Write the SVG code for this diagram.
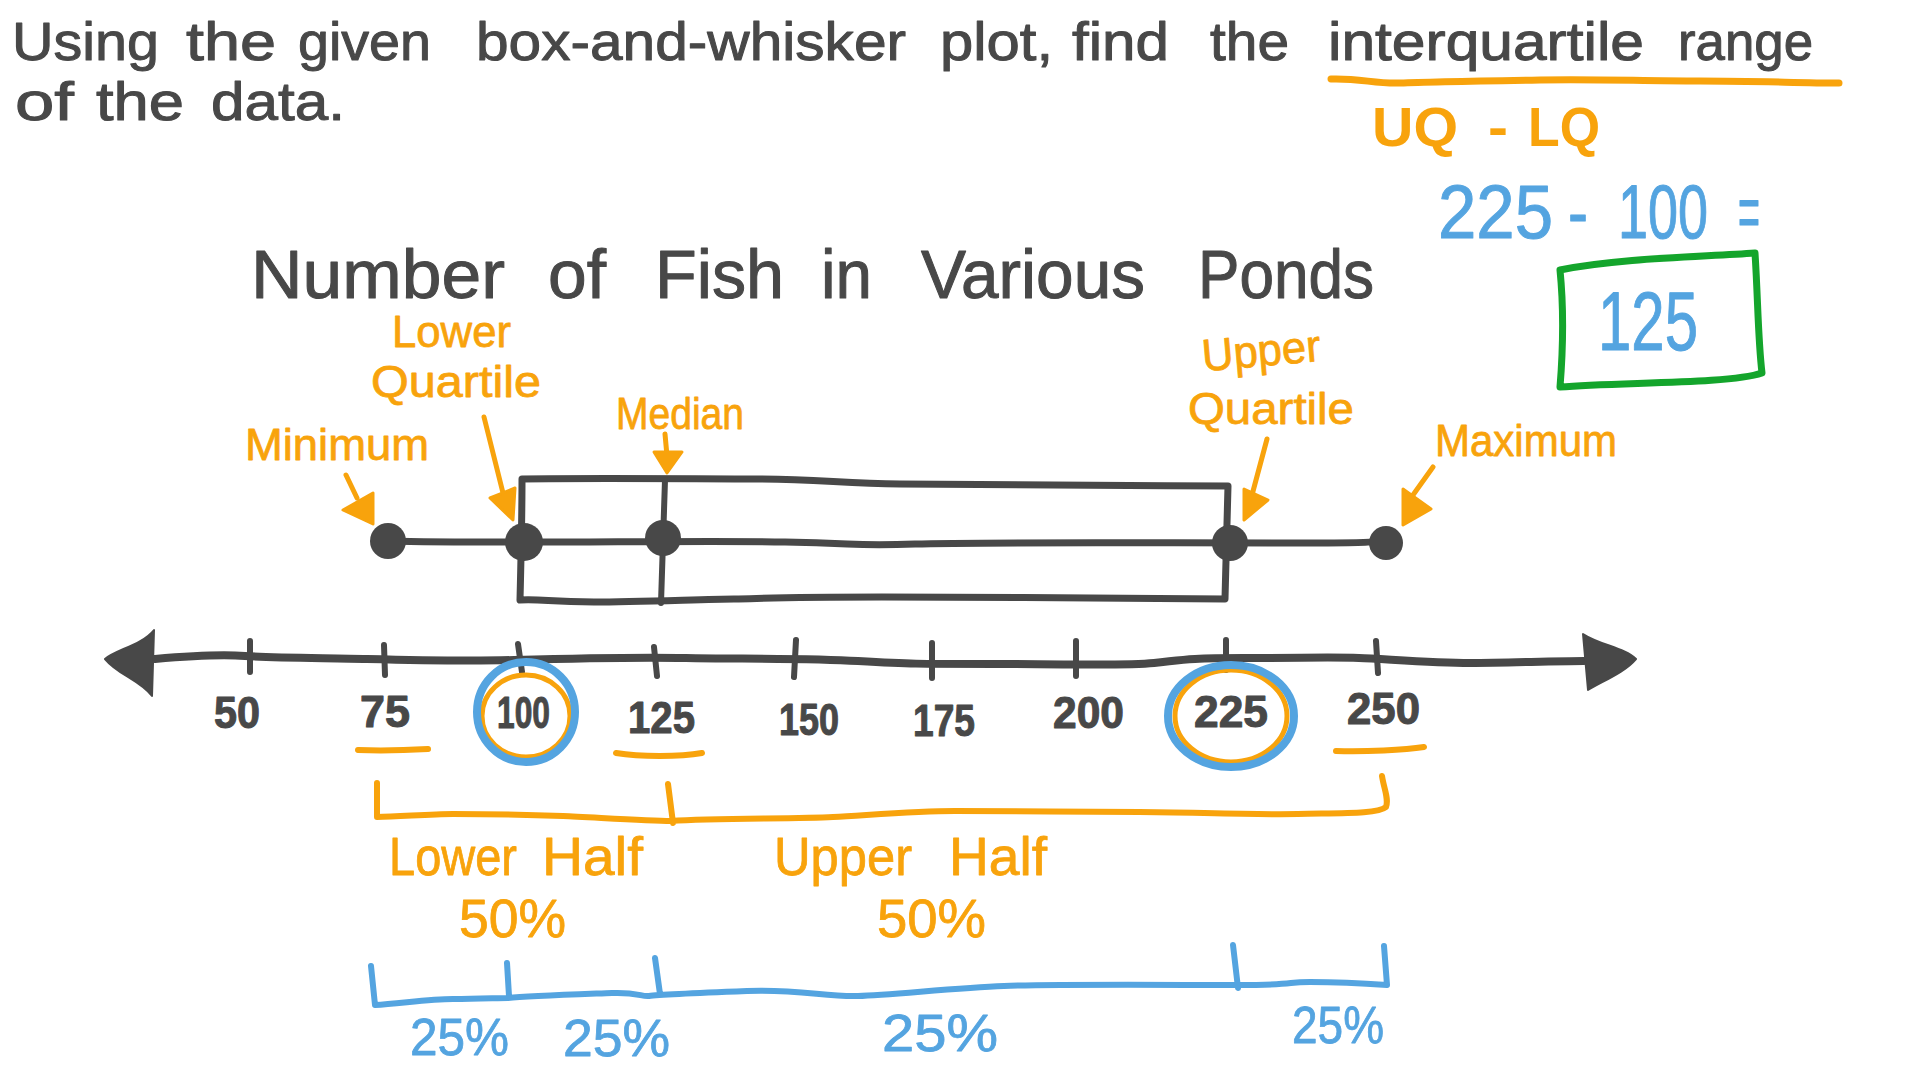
<svg xmlns="http://www.w3.org/2000/svg" width="1920" height="1080" viewBox="0 0 1920 1080">
<style>
text{font-family:"Liberation Sans",Arial,sans-serif;stroke-linejoin:round}
.d{fill:#484848}.o{fill:#f8a30c}.b{fill:#54a4e0}
.dt{stroke:#484848}.ot{stroke:#f8a30c}.bt{stroke:#54a4e0}
.w{fill:none;stroke-linecap:round;stroke-linejoin:round}
.ds{stroke:#484848}.os{stroke:#f8a30c}.bs{stroke:#54a4e0}
.h{font-size:54px;stroke-width:1px}.t{font-size:68px;stroke-width:1px}.l{font-size:45px;stroke-width:.8px}.n{font-size:44px;font-weight:700;stroke-width:1px}
.m{font-size:54px;stroke-width:.8px}.p{font-size:52px;stroke-width:.8px}
</style>
<rect width="1920" height="1080" fill="#fff"/>
<g id="question">
<text class="h d dt" y="60"><tspan x="12" textLength="147" lengthAdjust="spacingAndGlyphs">Using</tspan> <tspan x="186" textLength="90" lengthAdjust="spacingAndGlyphs">the</tspan> <tspan x="298" textLength="133" lengthAdjust="spacingAndGlyphs">given</tspan> <tspan x="476" textLength="430" lengthAdjust="spacingAndGlyphs">box-and-whisker</tspan> <tspan x="940" textLength="113" lengthAdjust="spacingAndGlyphs">plot,</tspan> <tspan x="1072" textLength="97" lengthAdjust="spacingAndGlyphs">find</tspan> <tspan x="1210" textLength="79" lengthAdjust="spacingAndGlyphs">the</tspan> <tspan x="1328" textLength="316" lengthAdjust="spacingAndGlyphs">interquartile</tspan> <tspan x="1678" textLength="135" lengthAdjust="spacingAndGlyphs">range</tspan></text>
<text class="h d dt" y="120"><tspan x="15" textLength="59" lengthAdjust="spacingAndGlyphs">of</tspan> <tspan x="96" textLength="88" lengthAdjust="spacingAndGlyphs">the</tspan> <tspan x="211" textLength="134" lengthAdjust="spacingAndGlyphs">data.</tspan></text>
</g>
<g id="formula">
<path class="w os" stroke-width="7" d="M1331 79C1360 78 1375 84 1400 83S1480 81 1540 80S1640 81 1700 81S1800 83 1839 83"/>
<text class="o" font-size="56" font-weight="700" y="146"><tspan x="1372" textLength="86" lengthAdjust="spacingAndGlyphs">UQ</tspan> <tspan x="1488" textLength="20" lengthAdjust="spacingAndGlyphs">-</tspan> <tspan x="1528" textLength="72" lengthAdjust="spacingAndGlyphs">LQ</tspan></text>
<text class="b bt" font-size="76" stroke-width="1" y="238"><tspan x="1438" textLength="115" lengthAdjust="spacingAndGlyphs">225</tspan><tspan x="1568" textLength="20" lengthAdjust="spacingAndGlyphs">-</tspan><tspan x="1618" textLength="90" lengthAdjust="spacingAndGlyphs">100</tspan> <tspan x="1738" textLength="22" lengthAdjust="spacingAndGlyphs">=</tspan></text>
</g>
<g id="answer">
<path class="w" stroke="#14a52c" stroke-width="7" d="M1560 270C1620 258 1700 257 1755 253C1758 300 1758 340 1762 373C1730 384 1620 382 1560 387C1563 350 1564 310 1560 270Z"/>
<text class="b bt" font-size="84" stroke-width="1" y="350" x="1598" textLength="100" lengthAdjust="spacingAndGlyphs">125</text>
</g>
<g id="chart-title"><text class="d dt t" y="298"><tspan x="251" textLength="254" lengthAdjust="spacingAndGlyphs">Number</tspan> <tspan x="548" textLength="58" lengthAdjust="spacingAndGlyphs">of</tspan> <tspan x="655" textLength="129" lengthAdjust="spacingAndGlyphs">Fish</tspan> <tspan x="821" textLength="51" lengthAdjust="spacingAndGlyphs">in</tspan> <tspan x="921" textLength="224" lengthAdjust="spacingAndGlyphs">Various</tspan> <tspan x="1198" textLength="176" lengthAdjust="spacingAndGlyphs">Ponds</tspan></text></g>
<g id="box-plot">
<path class="w ds" stroke-width="7" d="M522 479C600 478 700 479 760 479S845 484 900 484S1100 486 1228 486C1227 520 1226 560 1225 599C1100 598 1000 597 882 597S760 599 734 599S640 602 594 602S545 599 520 600C521 560 522 520 522 479Z"/>
<path class="w ds" stroke-width="6" d="M665 480L661 603"/>
<path class="w ds" stroke-width="7" d="M388 541C500 544 700 540 785 542S856 546 915 544S1145 543 1282 543S1345 540 1386 543"/>
<g class="d"><circle cx="388" cy="541" r="18"/><circle cx="524" cy="542" r="19"/><circle cx="663" cy="538" r="18"/><circle cx="1230" cy="543" r="18"/><circle cx="1386" cy="543" r="17"/></g>
</g>
<g id="number-line">
<path class="w ds" stroke-width="8" d="M155 659C189 656 219 654 245 656S328 658 367 659S478 661 514 660S637 657 686 658S806 658 858 661S915 664 995 664S1125 666 1154 663S1184 658 1244 658S1333 657 1359 658S1433 663 1470 663S1552 661 1584 661"/>
<path class="d ds" stroke-width="2" stroke-linejoin="round" d="M154 630L152 696C140 680 118 675 105 659C115 650 142 645 154 630ZM1583 634L1588 690C1605 680 1625 672 1636 659C1625 648 1600 645 1583 634Z"/>
<path class="w ds" stroke-width="6" d="M250 641V672M384 645L385 675M518 644L522 672M654 647L657 676M796 640L794 677M932 643V678M1076 641V676M1226 640V670M1376 641L1378 673"/>
</g>
<g id="tick-labels" class="d dt n">
<text x="214" y="728" textLength="46" lengthAdjust="spacingAndGlyphs">50</text>
<text x="360" y="727" textLength="50" lengthAdjust="spacingAndGlyphs">75</text>
<text x="497" y="728" textLength="53" lengthAdjust="spacingAndGlyphs">100</text>
<text x="628" y="733" textLength="67" lengthAdjust="spacingAndGlyphs">125</text>
<text x="779" y="735" textLength="60" lengthAdjust="spacingAndGlyphs">150</text>
<text x="913" y="736" textLength="62" lengthAdjust="spacingAndGlyphs">175</text>
<text x="1053" y="728" textLength="71" lengthAdjust="spacingAndGlyphs">200</text>
<text x="1194" y="727" textLength="74" lengthAdjust="spacingAndGlyphs">225</text>
<text x="1347" y="724" textLength="73" lengthAdjust="spacingAndGlyphs">250</text>
</g>
<g id="marks">
<path class="w os" stroke-width="6" d="M358 750C385 751 410 750 428 749M616 753C640 757 680 757 702 753M1336 751C1365 752 1405 750 1424 747"/>
<ellipse class="w os" stroke-width="5" cx="526" cy="716" rx="44" ry="41"/>
<ellipse class="w bs" stroke-width="8" cx="526" cy="712" rx="49" ry="50"/>
<ellipse class="w os" stroke-width="5" cx="1231" cy="716" rx="56" ry="46"/>
<ellipse class="w bs" stroke-width="8" cx="1231" cy="716" rx="63" ry="51"/>
</g>
<g id="annotations" class="o ot l">
<text x="392" y="347" textLength="119" lengthAdjust="spacingAndGlyphs">Lower</text>
<text x="371" y="397" textLength="170" lengthAdjust="spacingAndGlyphs">Quartile</text>
<text x="616" y="429" textLength="128" lengthAdjust="spacingAndGlyphs">Median</text>
<text x="245" y="460" textLength="184" lengthAdjust="spacingAndGlyphs">Minimum</text>
<text x="1203" y="366" textLength="119" lengthAdjust="spacingAndGlyphs" transform="rotate(-5 1262 366)">Upper</text>
<text x="1188" y="424" textLength="166" lengthAdjust="spacingAndGlyphs">Quartile</text>
<text x="1435" y="456" textLength="182" lengthAdjust="spacingAndGlyphs">Maximum</text>
</g>
<g id="arrows">
<path class="w os" stroke-width="5" d="M484 417L503 493M665 434L667 456M346 475L357 498M1267 439L1252 495M1433 467L1413 495"/>
<g class="o os" stroke-width="3" stroke-linejoin="round"><polygon points="490,498 515,488 513,520"/><polygon points="654,452 682,452 667,473"/><polygon points="343,510 373,493 373,524"/><polygon points="1244,489 1268,500 1244,520"/><polygon points="1403,489 1431,509 1403,525"/></g>
</g>
<g id="half-brackets">
<path class="w os" stroke-width="6" d="M377 783L377 817C398 817 428 814 453 814S537 815 563 816S647 821 671 821C716 818 796 819 833 817S915 811 955 811S1094 812 1139 812S1253 815 1298 814S1378 814 1386 807C1389 799 1384 789 1382 776M668 784L673 823"/>
<text class="o ot m" y="875"><tspan x="389" textLength="128" lengthAdjust="spacingAndGlyphs">Lower</tspan> <tspan x="542" textLength="101" lengthAdjust="spacingAndGlyphs">Half</tspan></text>
<text class="o ot m" y="875"><tspan x="774" textLength="138" lengthAdjust="spacingAndGlyphs">Upper</tspan> <tspan x="949" textLength="98" lengthAdjust="spacingAndGlyphs">Half</tspan></text>
<text class="o ot m" x="459" y="937" textLength="107" lengthAdjust="spacingAndGlyphs">50%</text>
<text class="o ot m" x="877" y="937" textLength="109" lengthAdjust="spacingAndGlyphs">50%</text>
</g>
<g id="quarter-brackets">
<path class="w bs" stroke-width="6" d="M371 966L375 1005C398 1004 428 999 453 999S498 998 508 998C527 996 587 994 612 993S642 997 649 996S696 993 747 991S826 997 858 996S955 988 1004 986S1174 985 1237 985S1283 982 1310 982S1373 984 1387 985L1384 946M507 963L509 996M655 958L660 994M1233 945L1238 988"/>
<text class="b bt p" x="410" y="1055" textLength="99" lengthAdjust="spacingAndGlyphs">25%</text>
<text class="b bt p" x="563" y="1056" textLength="107" lengthAdjust="spacingAndGlyphs">25%</text>
<text class="b bt p" x="882" y="1051" textLength="116" lengthAdjust="spacingAndGlyphs">25%</text>
<text class="b bt p" x="1292" y="1043" textLength="92" lengthAdjust="spacingAndGlyphs">25%</text>
</g>
</svg>
